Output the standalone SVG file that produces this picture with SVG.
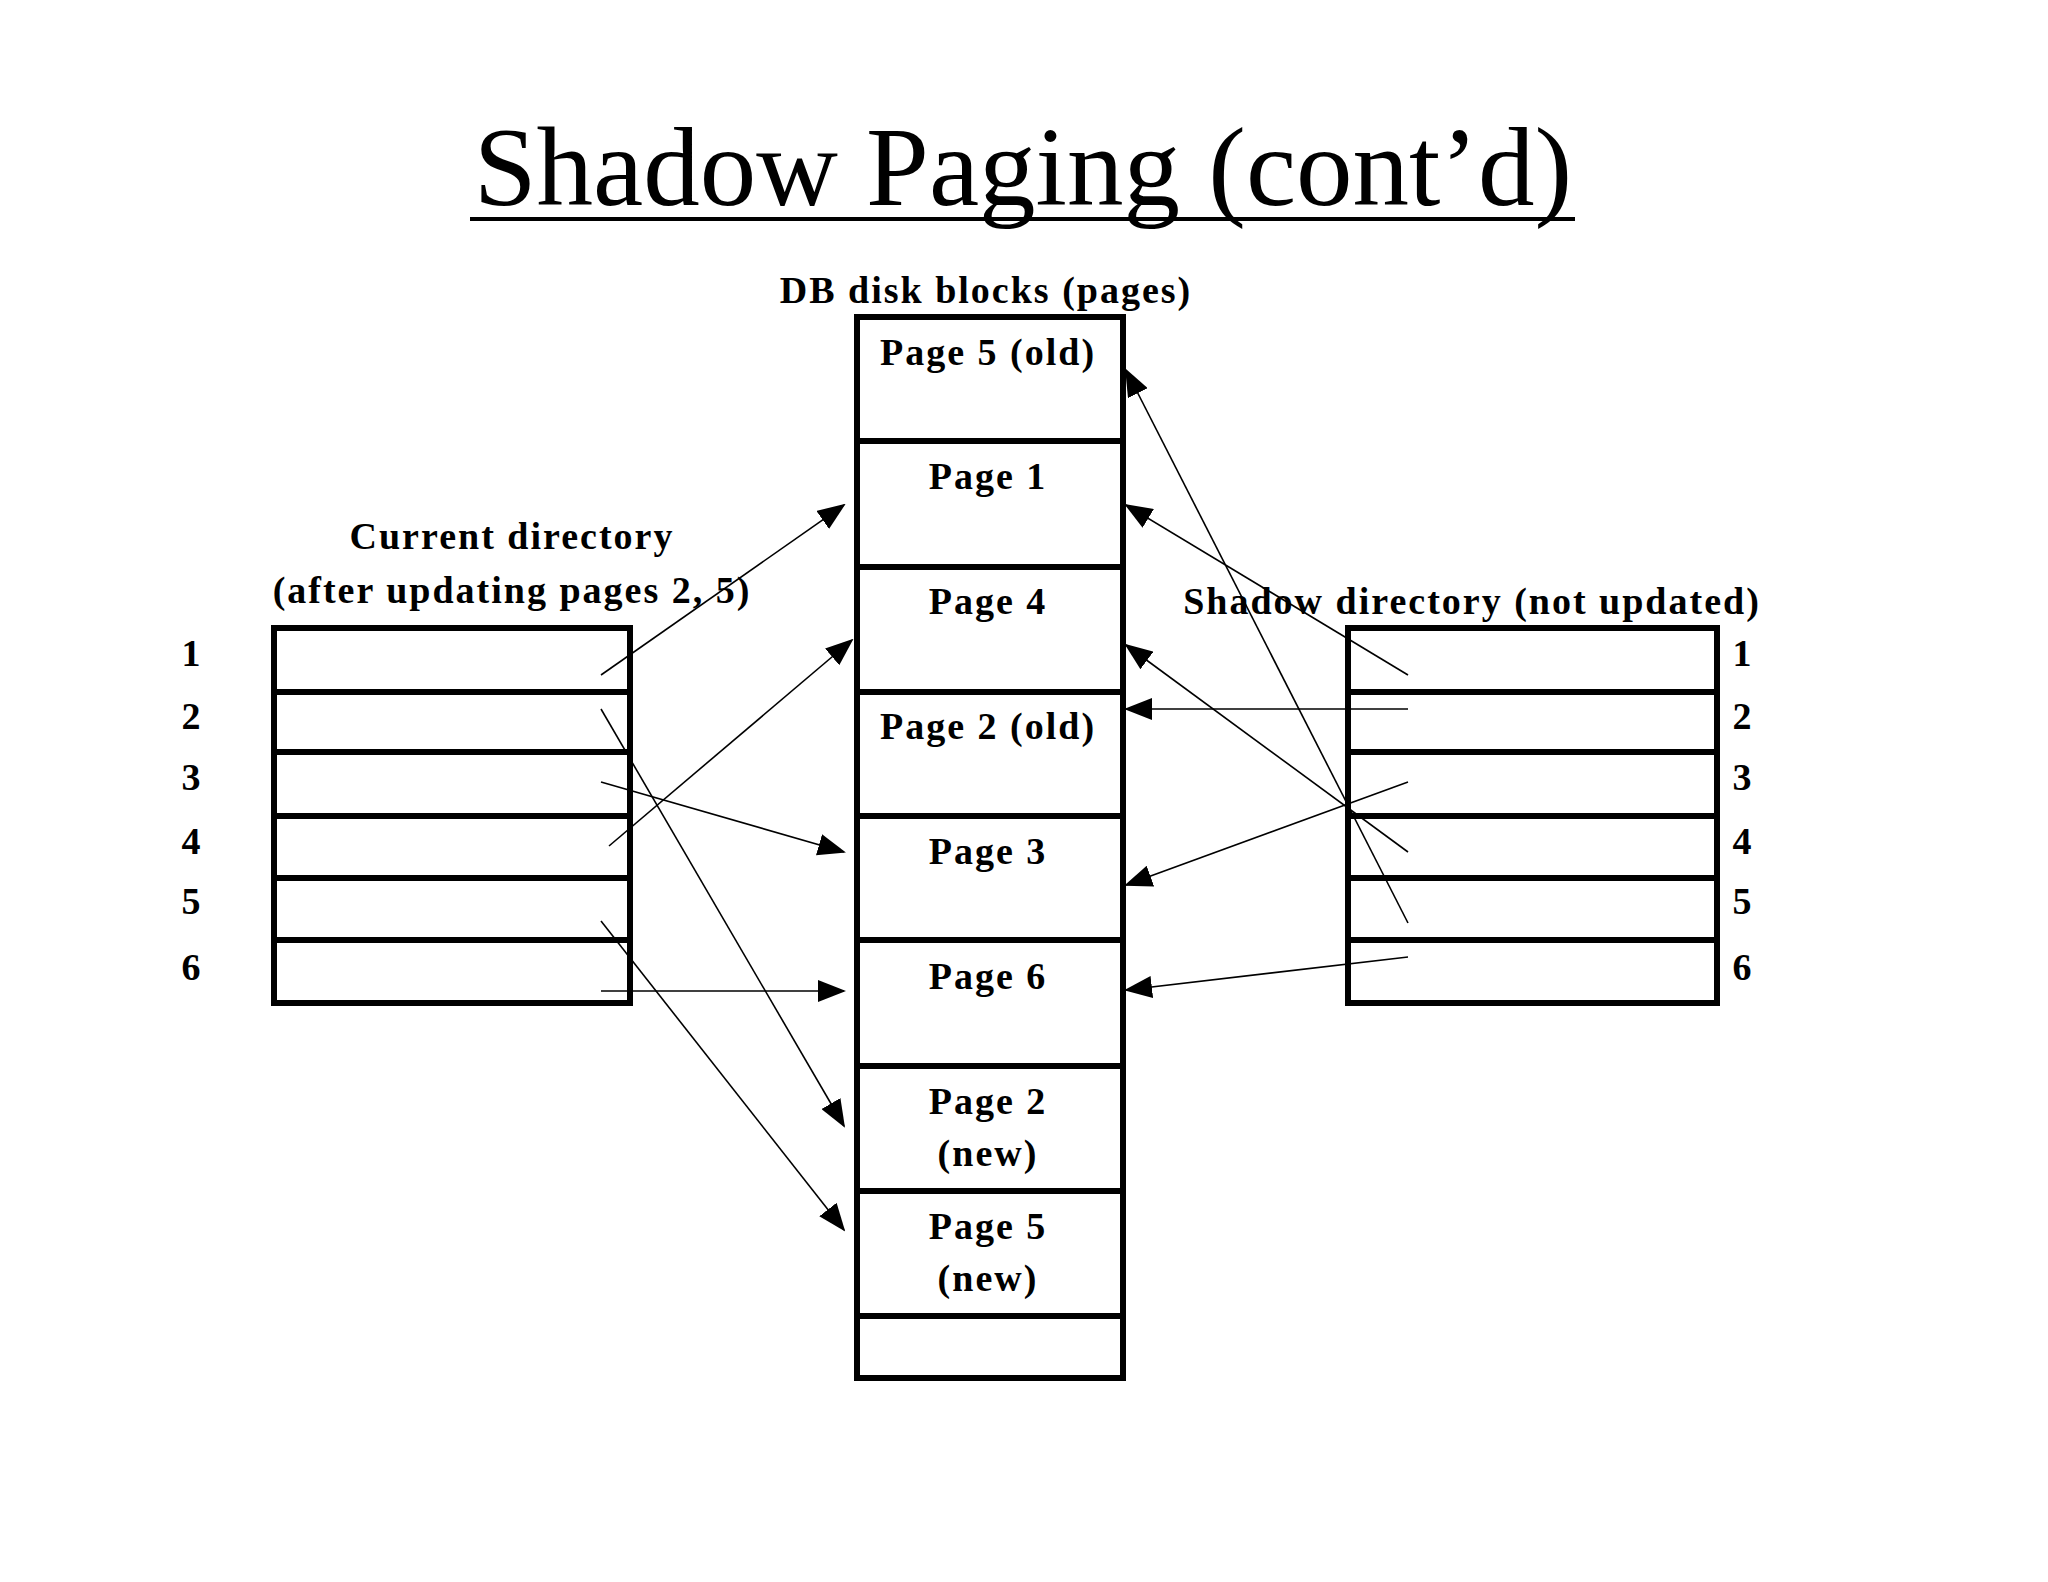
<svg xmlns="http://www.w3.org/2000/svg" width="2048" height="1582" viewBox="0 0 2048 1582">
<style>
.t{font-family:"Liberation Serif",serif;font-weight:bold;font-size:38px;fill:#000;letter-spacing:2px}
.c{text-anchor:middle}
.box{fill:none;stroke:#000;stroke-width:6}
.ln{stroke:#000;stroke-width:6}
.a{stroke:#000;stroke-width:1.6;fill:none;marker-end:url(#ah)}
</style>
<defs><marker id="ah" markerUnits="userSpaceOnUse" markerWidth="28" markerHeight="22" refX="26" refY="11" orient="auto"><path d="M0,0 L28,11 L0,22 Z" fill="#000"/></marker></defs>
<rect width="2048" height="1582" fill="#fff"/>
<g id="title"><text x="1023" y="205" font-family="Liberation Serif,serif" font-size="113" text-anchor="middle">Shadow Paging (cont’d)</text><line x1="470" y1="219" x2="1575" y2="219" stroke="#000" stroke-width="4"/></g>
<g id="pages">
<text class="t c" x="986" y="303">DB disk blocks (pages)</text>
<rect class="box" x="857" y="317" width="266" height="1061"/>
<line class="ln" x1="857" y1="441" x2="1123" y2="441"/><line class="ln" x1="857" y1="567" x2="1123" y2="567"/><line class="ln" x1="857" y1="692" x2="1123" y2="692"/><line class="ln" x1="857" y1="816" x2="1123" y2="816"/><line class="ln" x1="857" y1="940" x2="1123" y2="940"/><line class="ln" x1="857" y1="1066" x2="1123" y2="1066"/><line class="ln" x1="857" y1="1191" x2="1123" y2="1191"/><line class="ln" x1="857" y1="1316" x2="1123" y2="1316"/>
<text class="t c" x="988" y="365">Page 5 (old)</text>
<text class="t c" x="988" y="489">Page 1</text>
<text class="t c" x="988" y="614">Page 4</text>
<text class="t c" x="988" y="739">Page 2 (old)</text>
<text class="t c" x="988" y="864">Page 3</text>
<text class="t c" x="988" y="989">Page 6</text>
<text class="t c" x="988" y="1114">Page 2</text><text class="t c" x="988" y="1166">(new)</text>
<text class="t c" x="988" y="1239">Page 5</text><text class="t c" x="988" y="1291">(new)</text>
</g>
<g id="current">
<text class="t c" x="512" y="549">Current directory</text>
<text class="t c" x="512" y="603">(after updating pages 2, 5)</text>
<rect class="box" x="274" y="628" width="356" height="375"/>
<line class="ln" x1="274" y1="692" x2="630" y2="692"/><line class="ln" x1="274" y1="752" x2="630" y2="752"/><line class="ln" x1="274" y1="816" x2="630" y2="816"/><line class="ln" x1="274" y1="878" x2="630" y2="878"/><line class="ln" x1="274" y1="940" x2="630" y2="940"/>
<text class="t c" x="192" y="666">1</text><text class="t c" x="192" y="729">2</text><text class="t c" x="192" y="790">3</text><text class="t c" x="192" y="854">4</text><text class="t c" x="192" y="914">5</text><text class="t c" x="192" y="980">6</text>
</g>
<g id="shadow">
<text class="t c" x="1472" y="614">Shadow directory (not updated)</text>
<rect class="box" x="1348" y="628" width="369" height="375"/>
<line class="ln" x1="1348" y1="692" x2="1717" y2="692"/><line class="ln" x1="1348" y1="752" x2="1717" y2="752"/><line class="ln" x1="1348" y1="816" x2="1717" y2="816"/><line class="ln" x1="1348" y1="878" x2="1717" y2="878"/><line class="ln" x1="1348" y1="940" x2="1717" y2="940"/>
<text class="t c" x="1743" y="666">1</text><text class="t c" x="1743" y="729">2</text><text class="t c" x="1743" y="790">3</text><text class="t c" x="1743" y="854">4</text><text class="t c" x="1743" y="914">5</text><text class="t c" x="1743" y="980">6</text>
</g>
<g id="connectors">
<line class="a" x1="601" y1="675" x2="844" y2="505"/>
<line class="a" x1="601" y1="709" x2="844" y2="1126"/>
<line class="a" x1="601" y1="782" x2="844" y2="852"/>
<line class="a" x1="609" y1="846" x2="852" y2="640"/>
<line class="a" x1="601" y1="921" x2="844" y2="1230"/>
<line class="a" x1="601" y1="991" x2="844" y2="991"/>
<line class="a" x1="1408" y1="675" x2="1126" y2="505"/>
<line class="a" x1="1408" y1="709" x2="1126" y2="709"/>
<line class="a" x1="1408" y1="782" x2="1126" y2="885"/>
<line class="a" x1="1408" y1="852" x2="1126" y2="645"/>
<line class="a" x1="1408" y1="923" x2="1126" y2="370"/>
<line class="a" x1="1408" y1="957" x2="1126" y2="990"/>
</g>
</svg>
